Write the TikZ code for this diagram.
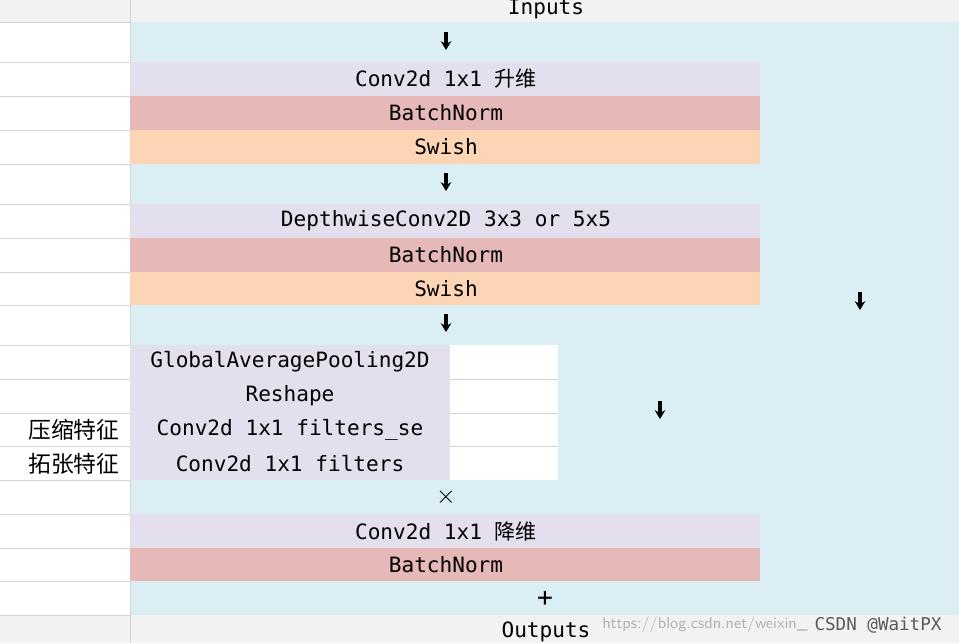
\documentclass[tikz,border=0pt]{standalone}
\usepackage{fontspec}
\setmainfont{DejaVu Sans Mono}
\newfontfamily\cjk{Noto Sans CJK SC}
\usepackage{tikz}
\usetikzlibrary{arrows.meta}

\definecolor{Sky}{HTML}{DAEEF3}
\definecolor{Lav}{HTML}{E4DFEC}
\definecolor{Rose}{HTML}{E6B8B7}
\definecolor{Peach}{HTML}{FCD5B4}
\definecolor{Head}{HTML}{F2F2F2}
\definecolor{Grid}{HTML}{D4D4D4}

\tikzset{
  lab/.style={font=\fontsize{12}{12}\selectfont},
  down/.style={-{Stealth[length=5pt,width=6pt]}, line width=2pt}
}

\begin{document}
\begin{tikzpicture}[x=0.02cm, y=-0.02cm]
  \useasboundingbox (0,0) rectangle (959,643);
  % sheet
  \fill[Head] (0,0) rectangle (959,22);
  \fill[Head] (0,615) rectangle (959,643);
  \fill[Sky] (130,22) rectangle (959,615);
  \foreach \y in {22,62,96,130,164,204,238,272,305,345,379,413,446,480,514,548,581,615}
    \draw[Grid] (0,\y) -- (130,\y);
  \draw[Grid] (130,0) -- (130,643);

  % bars
  \fill[Lav] (130,62) rectangle (760,96);
  \fill[Rose] (130,96) rectangle (760,130);
  \fill[Peach] (130,130) rectangle (760,164);
  \fill[Lav] (130,204) rectangle (760,238);
  \fill[Rose] (130,238) rectangle (760,272);
  \fill[Peach] (130,272) rectangle (760,305);
  \fill[Lav] (130,345) rectangle (450,480);
  \fill[white] (450,345) rectangle (558,480);
  \foreach \y in {379,413,446}
    \draw[Grid] (450,\y) -- (558,\y);
  \fill[Lav] (130,514) rectangle (760,548);
  \fill[Rose] (130,548) rectangle (760,581);

  % texts
  \node[lab] (in) at (546,9) {Inputs};
  \node[lab] (c1) at (446,79) {Conv2d 1x1 {\cjk 升维}};
  \node[lab] (b1) at (446,113) {BatchNorm};
  \node[lab] (s1) at (446,147) {Swish};
  \node[lab] (dw) at (446,221) {DepthwiseConv2D 3x3 or 5x5};
  \node[lab] (b2) at (446,255) {BatchNorm};
  \node[lab] (s2) at (446,289) {Swish};
  \node[lab] (gp) at (290,362) {GlobalAveragePooling2D};
  \node[lab] (rs) at (290,396) {Reshape};
  \node[lab] (se) at (290,430) {Conv2d 1x1 filters\_se};
  \node[lab] (fi) at (290,464) {Conv2d 1x1 filters};
  \node[lab, font=\fontsize{13}{13}\selectfont] (sq) at (74,430) {\cjk 压缩特征};
  \node[lab, font=\fontsize{13}{13}\selectfont] (ex) at (74,464) {\cjk 拓张特征};
  \node[lab, font=\fontsize{15}{15}\selectfont] (mul) at (446,497) {$\times$};
  \node[lab, font=\fontsize{15}{15}\selectfont] (add) at (545,599) {+};
  \node[lab] (c2) at (446,531) {Conv2d 1x1 {\cjk 降维}};
  \node[lab] (b3) at (446,565) {BatchNorm};
  \node[lab] (out) at (546,632) {Outputs};
  \node[font=\sffamily\fontsize{9}{9}\selectfont, text=gray!60] (url) at (705,625) {https://blog.csdn.net/weixin\_};
  \node[font=\fontsize{10}{10}\selectfont, text=gray!70!black] (wm) at (878,625) {CSDN @WaitPX};

  % arrows
  \coordinate (a1) at (446,32);  \coordinate (a2) at (446,50);
  \coordinate (a3) at (446,173); \coordinate (a4) at (446,191);
  \coordinate (a5) at (446,314); \coordinate (a6) at (446,332);
  \coordinate (a7) at (860,292); \coordinate (a8) at (860,310);
  \coordinate (a9) at (660,401); \coordinate (a10) at (660,419);
  \draw[down] (a1) -- (a2);
  \draw[down] (a3) -- (a4);
  \draw[down] (a5) -- (a6);
  \draw[down] (a7) -- (a8);
  \draw[down] (a9) -- (a10);
\end{tikzpicture}
\end{document}
